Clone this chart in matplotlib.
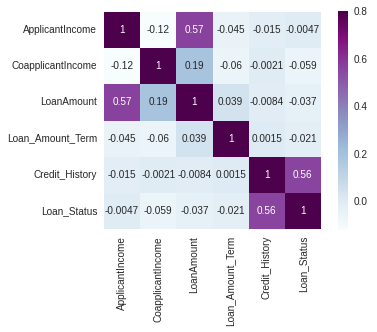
import numpy as np
import pandas as pd
import matplotlib
matplotlib.use("Agg")
import matplotlib.pyplot as plt
import seaborn as sns

cols = ["ApplicantIncome", "CoapplicantIncome", "LoanAmount",
        "Loan_Amount_Term", "Credit_History", "Loan_Status"]
corr_values = [
    [1, -0.12, 0.57, -0.045, -0.015, -0.0047],
    [-0.12, 1, 0.19, -0.06, -0.0021, -0.059],
    [0.57, 0.19, 1, 0.039, -0.0084, -0.037],
    [-0.045, -0.06, 0.039, 1, 0.0015, -0.021],
    [-0.015, -0.0021, -0.0084, 0.0015, 1, 0.56],
    [-0.0047, -0.059, -0.037, -0.021, 0.56, 1],
]
corr = pd.DataFrame(corr_values, index=cols, columns=cols)

sns.set_style("darkgrid")
plt.rcParams["font.family"] = ["Liberation Sans", "DejaVu Sans"]
plt.rcParams["font.size"] = 10

fig = plt.figure(figsize=(377 / 72, 332 / 72), dpi=72)
ax = fig.add_axes([104 / 377, 1 - 230 / 332, 217 / 377, 219 / 332])
cax = fig.add_axes([338 / 377, 1 - 230 / 332, 10 / 377, 219 / 332])

sns.heatmap(corr, vmax=0.8, square=True, annot=True, cmap="BuPu",
            ax=ax, cbar_ax=cax, annot_kws={"size": 10})
ax.tick_params(length=0, labelsize=10, colors=".15", pad=7)
cax.tick_params(length=0, labelsize=10, colors=".15", pad=6)
cax.set_yticks([0.0, 0.2, 0.4, 0.6, 0.8])

fig.savefig("out.png", dpi=72)
